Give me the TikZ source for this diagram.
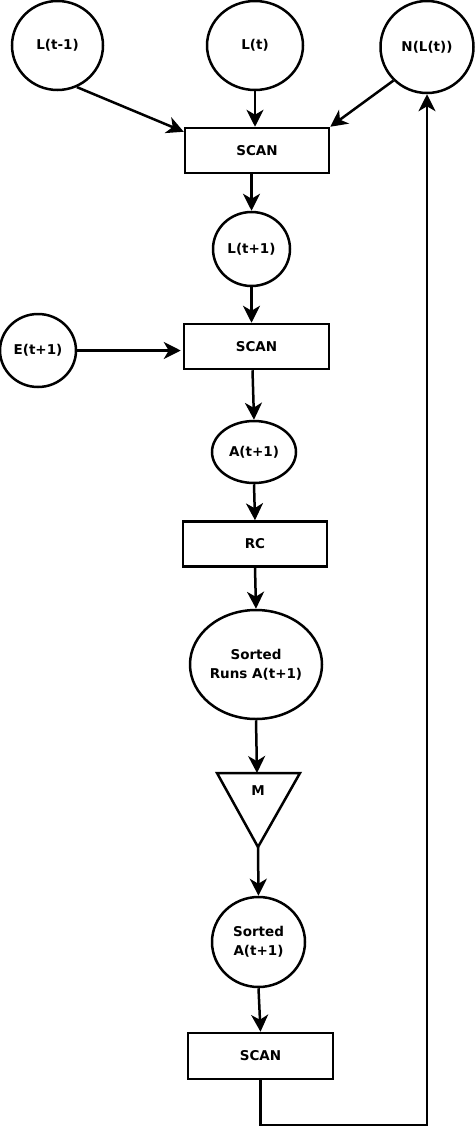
\documentclass[tikz,border=0pt]{standalone}
\usepackage{fontspec}
\setmainfont{DejaVu Sans}
\usetikzlibrary{shapes.geometric,arrows.meta}
\begin{document}
\begin{tikzpicture}[x=1pt,y=-1pt,
  every node/.style={font=\bfseries\fontsize{13.5}{19}\selectfont, align=center, inner sep=0pt},
  circ/.style={draw, line width=2.5pt, ellipse},
  box/.style={draw, line width=2.5pt, rectangle, minimum width=144pt, minimum height=45pt},
  arr/.style={line width=2.5pt, -{Stealth[length=17pt,width=17pt,inset=5pt]}},
  ln/.style={line width=2.5pt}]
\useasboundingbox (0,0) rectangle (474,1127);
\node[circ, minimum width=91pt, minimum height=89pt] (Lm1) at (57.5,45.5) {L(t-1)};
\node[circ, minimum width=96pt, minimum height=89pt] (Lt) at (255,45.5) {L(t)};
\node[circ, minimum width=93pt, minimum height=92pt] (NL) at (427,47) {N(L(t))};
\node[box] (scan1) at (257,150.5) {SCAN};
\node[circ, minimum width=77pt, minimum height=74pt] (Lt1) at (251.5,249) {L(t+1)};
\node[circ, minimum width=76pt, minimum height=73pt] (Et1) at (38,350.5) {E(t+1)};
\node[box, minimum width=145pt] (scan2) at (256.5,346.5) {SCAN};
\node[circ, minimum width=84pt, minimum height=62pt] (At1) at (254,452) {A(t+1)};
\node[box] (rc) at (255,544) {RC};
\node[circ, minimum width=132pt, minimum height=109pt] (SR) at (256,664.5) {Sorted\\Runs A(t+1)};
\draw[ln, line join=miter] (217,773) -- (300,773) -- (258,847) -- cycle;
\coordinate (Mtop) at (257,773);
\coordinate (Mbot) at (258,847);
\node (M) at (258,791) {M};
\node[circ, minimum width=93pt, minimum height=90pt] (SA) at (258.5,942) {Sorted\\A(t+1)};
\node[box, minimum width=145pt, minimum height=46pt] (scan3) at (260.5,1056) {SCAN};
\coordinate (loopy) at (427,1125);

\draw[arr] (Lm1.-65) -- ([yshift=-5pt]scan1.north west);
\draw[arr] (Lt.south) -- (Lt.south |- scan1.north);
\draw[arr] (NL.-135) -- (scan1.north east);
\draw[arr] (scan1.south -| Lt1.north) -- (Lt1.north);
\draw[arr] (Lt1.south) -- (Lt1.south |- scan2.north);
\draw[arr] (Et1.east) -- ([xshift=-2pt]scan2.west |- Et1.east);
\draw[arr] ([xshift=-4pt]scan2.south) -- (At1.north);
\draw[arr] (At1.south) -- (rc.north);
\draw[arr] (rc.south) -- (SR.north);
\draw[arr] (SR.south) -- (Mtop);
\draw[arr] (Mbot) -- (SA.north);
\draw[arr] (SA.south) -- (scan3.north);
\draw[arr] (scan3.south) |- (loopy) -- (NL.south);
\end{tikzpicture}
\end{document}
